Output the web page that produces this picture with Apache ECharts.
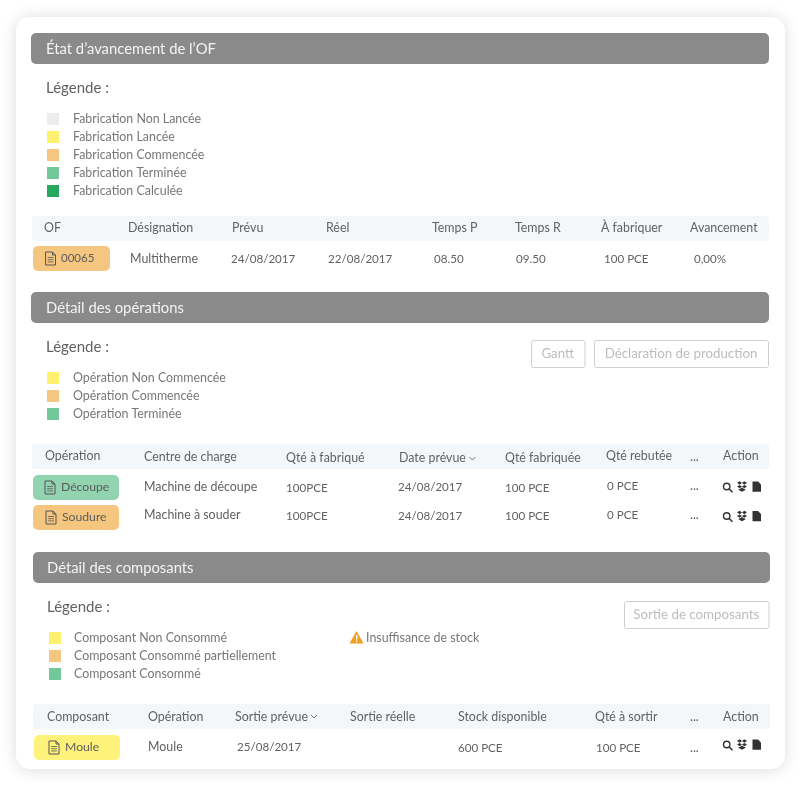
<!DOCTYPE html>
<html>
<head>
<meta charset="utf-8">
<style>
html, body { margin: 0; padding: 0; background: #fff; }
#main { width: 800px; height: 800px; }
</style>
<script src="https://cdn.jsdelivr.net/npm/echarts@6/dist/echarts.min.js"></script>
</head>
<body>
<div id="main"></div>
<script>
// textes
var titles = ['État d’avancement de l’OF', 'Détail des opérations', 'Détail des composants'];
var legendTitle = 'Légende :';
var legendOf = ['Fabrication Non Lancée', 'Fabrication Lancée', 'Fabrication Commencée', 'Fabrication Terminée', 'Fabrication Calculée'];
var legendOp = ['Opération Non Commencée', 'Opération Commencée', 'Opération Terminée'];
var legendComp = ['Composant Non Consommé', 'Composant Consommé partiellement', 'Composant Consommé'];
var stockWarning = 'Insuffisance de stock';
var buttonsOp = ['Gantt', 'Déclaration de production'];
var buttonsComp = ['Sortie de composants'];

var headOf = ['OF', 'Désignation', 'Prévu', 'Réel', 'Temps P', 'Temps R', 'À fabriquer', 'Avancement'];
var rowOf = ['00065', 'Multitherme', '24/08/2017', '22/08/2017', '08.50', '09.50', '100 PCE', '0,00%'];

var headOp = ['Opération', 'Centre de charge', 'Qté à fabriqué', 'Date prévue', 'Qté fabriquée', 'Qté rebutée', '...', 'Action'];
var rowDecoupe = ['Découpe', 'Machine de découpe', '100PCE', '24/08/2017', '100 PCE', '0 PCE', '...'];
var rowSoudure = ['Soudure', 'Machine à souder', '100PCE', '24/08/2017', '100 PCE', '0 PCE', '...'];

var headComp = ['Composant', 'Opération', 'Sortie prévue', 'Sortie réelle', 'Stock disponible', 'Qté à sortir', '...', 'Action'];
var rowMoule = ['Moule', 'Moule', '25/08/2017', '', '600 PCE', '100 PCE', '...'];

// couleurs
var GREY = '#ececec', YELLOW = '#fff06e', ORANGE = '#f5c67f', GREEN = '#74c79a', DARKGREEN = '#27a85f';
var swatchOf = [GREY, YELLOW, ORANGE, GREEN, DARKGREEN];
var swatchOp = [YELLOW, ORANGE, GREEN];

var FONT = 'Lato';
var TEXT = '#626262';
var els = [];

function rect(x, y, w, h, fill, r, stroke) {
    els.push({
        type: 'rect',
        shape: {x: x, y: y, width: w, height: h, r: r || 0},
        style: {fill: fill, stroke: stroke || null, lineWidth: stroke ? 1 : 0}
    });
}

function label(x, y, str, size, color, align) {
    els.push({
        type: 'text',
        x: x,
        y: y,
        style: {
            text: str,
            fontFamily: FONT,
            fontSize: size || 12,
            fill: color || TEXT,
            align: align || 'left',
            verticalAlign: 'middle'
        }
    });
}

function line(x1, y1, x2, y2, color, width) {
    els.push({
        type: 'line',
        shape: {x1: x1, y1: y1, x2: x2, y2: y2},
        style: {stroke: color, lineWidth: width, lineCap: 'round'}
    });
}

function poly(points, fill) {
    els.push({type: 'polygon', shape: {points: points}, style: {fill: fill}});
}

function header(x, y, w, str, textX) {
    rect(x, y, w, 31, '#8a8a8a', 5);
    label(textX, y + 16, str, 14.8, '#f4f4f4');
}

function legend(x, y, names, colors, gap) {
    for (let i = 0; i < names.length; i++) {
        rect(x, y + i * 18 - 6, 12, 12, colors[i]);
        label(x + gap, y + i * 18, names[i], 12.4, '#777777');
    }
}

function button(x, y, w, str) {
    rect(x + 0.5, y + 0.5, w, 27, '#fff', 2, '#cfcfcf');
    label(x + w / 2, y + 14, str, 13.3, '#bdbdbd', 'center');
}

// icone document du bouton
function docIcon(x, y, color) {
    els.push({
        type: 'polyline',
        shape: {points: [[x + 7, y], [x, y], [x, y + 13], [x + 10, y + 13], [x + 10, y + 3], [x + 7, y], [x + 7, y + 3], [x + 10, y + 3]]},
        style: {stroke: color, lineWidth: 1, fill: null}
    });
    line(x + 2.5, y + 5.5, x + 7.5, y + 5.5, color, 0.8);
    line(x + 2.5, y + 7.7, x + 7.5, y + 7.7, color, 0.8);
    line(x + 2.5, y + 9.9, x + 7.5, y + 9.9, color, 0.8);
}

function pill(x, y, w, str, fill, iconX, textX, size) {
    rect(x, y, w, 25, fill, 5);
    docIcon(iconX, y + 6, '#555');
    label(textX, y + 12.5, str, size, '#5c5c5c');
}

// loupe, dropbox, fichier
function actions(x, y) {
    els.push({
        type: 'circle',
        shape: {cx: x + 3.7, cy: y + 3.5, r: 3.2},
        style: {stroke: '#333', lineWidth: 1.4, fill: null}
    });
    line(x + 6.2, y + 6, x + 9, y + 8.8, '#333', 1.6);
    let d = x + 19;
    poly([[d - 5, y - 0.3], [d - 2.3, y - 1.7], [d, y], [d - 2.4, y + 1.7]], '#333');
    poly([[d + 5, y - 0.3], [d + 2.3, y - 1.7], [d, y], [d + 2.4, y + 1.7]], '#333');
    poly([[d - 5, y + 3.6], [d - 2.4, y + 1.9], [d, y + 3.5], [d - 2.3, y + 5.2]], '#333');
    poly([[d + 5, y + 3.6], [d + 2.4, y + 1.9], [d, y + 3.5], [d + 2.3, y + 5.2]], '#333');
    poly([[d - 3.2, y + 5.7], [d - 2.2, y + 6.1], [d, y + 4.6], [d + 2.2, y + 6.1], [d + 3.2, y + 5.7], [d + 3.2, y + 7], [d, y + 8.8], [d - 3.2, y + 7]], '#333');
    let f = x + 29.5;
    poly([[f, y - 1.5], [f + 5.5, y - 1.5], [f + 8.5, y + 1.5], [f + 8.5, y + 8.8], [f, y + 8.8]], '#333');
}

function chevron(x, y) {
    els.push({
        type: 'polyline',
        shape: {points: [[x, y - 1.5], [x + 3, y + 1.5], [x + 6, y - 1.5]]},
        style: {stroke: '#666', lineWidth: 0.9, fill: null}
    });
}

function cells(names, xs, ys) {
    for (let i = 0; i < names.length; i++) {
        if (names[i] === '') continue;
        // les chiffres de Lato sont plus larges
        let size = /^\d/.test(names[i]) ? 11.6 : 12.4;
        label(xs[i], ys[i], names[i], size);
    }
}

// carte
els.push({
    type: 'rect',
    shape: {x: 16, y: 17, width: 769, height: 752, r: 14},
    style: {fill: '#fff', shadowBlur: 16, shadowColor: 'rgba(0,0,0,0.14)', shadowOffsetY: 1}
});

// bloc OF
header(31, 33, 738, titles[0], 46);
label(46, 88, legendTitle, 15);
legend(47, 119, legendOf, swatchOf, 26);
rect(32, 216, 737, 25, '#f4f7fa', 3);
cells(headOf, [44, 128, 232, 326, 432, 515, 601, 690], [228, 228, 228, 228, 228, 228, 228, 228]);
pill(33, 246, 77, rowOf[0], ORANGE, 45.5, 61, 11.5);
cells(rowOf.slice(1), [130, 231, 328, 434, 516, 604, 694], [259, 259, 259, 259, 259, 259, 259]);

// bloc operations
header(31, 292, 738, titles[1], 46);
label(46, 347, legendTitle, 15);
button(531, 340, 53.5, buttonsOp[0]);
button(594, 340, 174, buttonsOp[1]);
legend(47, 378, legendOp, swatchOp, 26);
rect(32, 444, 737, 25, '#f4f7fa', 3);
cells(headOp, [45, 144, 286, 399, 505, 606, 690, 723], [456, 457, 458, 458, 458, 456, 457, 456]);
chevron(469.5, 458.5);
pill(33, 475, 86, rowDecoupe[0], '#92d3b0', 45, 61, 12.2);
cells(rowDecoupe.slice(1), [144, 286, 398, 505, 607, 690], [487, 488, 487, 488, 486, 486]);
actions(723, 483);
pill(33, 505, 86, rowSoudure[0], ORANGE, 46, 62, 12.2);
cells(rowSoudure.slice(1), [144, 286, 398, 505, 607, 690], [515, 516, 516, 516, 515, 515]);
actions(723, 512.5);

// bloc composants
header(33, 552, 737, titles[2], 47);
label(47, 607, legendTitle, 15);
button(624, 601, 144.5, buttonsComp[0]);
legend(49, 638, legendComp, swatchOp, 25);
poly([[356.5, 631], [363.5, 643.5], [349.5, 643.5]], '#f0a020');
rect(356, 635, 1.4, 4.5, '#fff');
rect(356, 640.4, 1.4, 1.5, '#fff');
label(366, 638, stockWarning, 12.4, '#777777');
rect(33, 704, 737, 25, '#f4f7fa', 3);
cells(headComp, [47, 148, 235, 350, 458, 595, 690, 723], [717, 717, 717, 717, 717, 717, 717, 717]);
chevron(311, 716.5);
pill(34, 735, 86, rowMoule[0], '#fff27a', 49, 65, 12.2);
cells(rowMoule.slice(1), [148, 237, 350, 458, 596, 690], [747, 747, 747, 748, 748, 748]);
actions(723, 741);

var echart = echarts.init(document.getElementById('main'));
echart.setOption({
    animation: false,
    graphic: {elements: els}
});
</script>
</body>
</html>
